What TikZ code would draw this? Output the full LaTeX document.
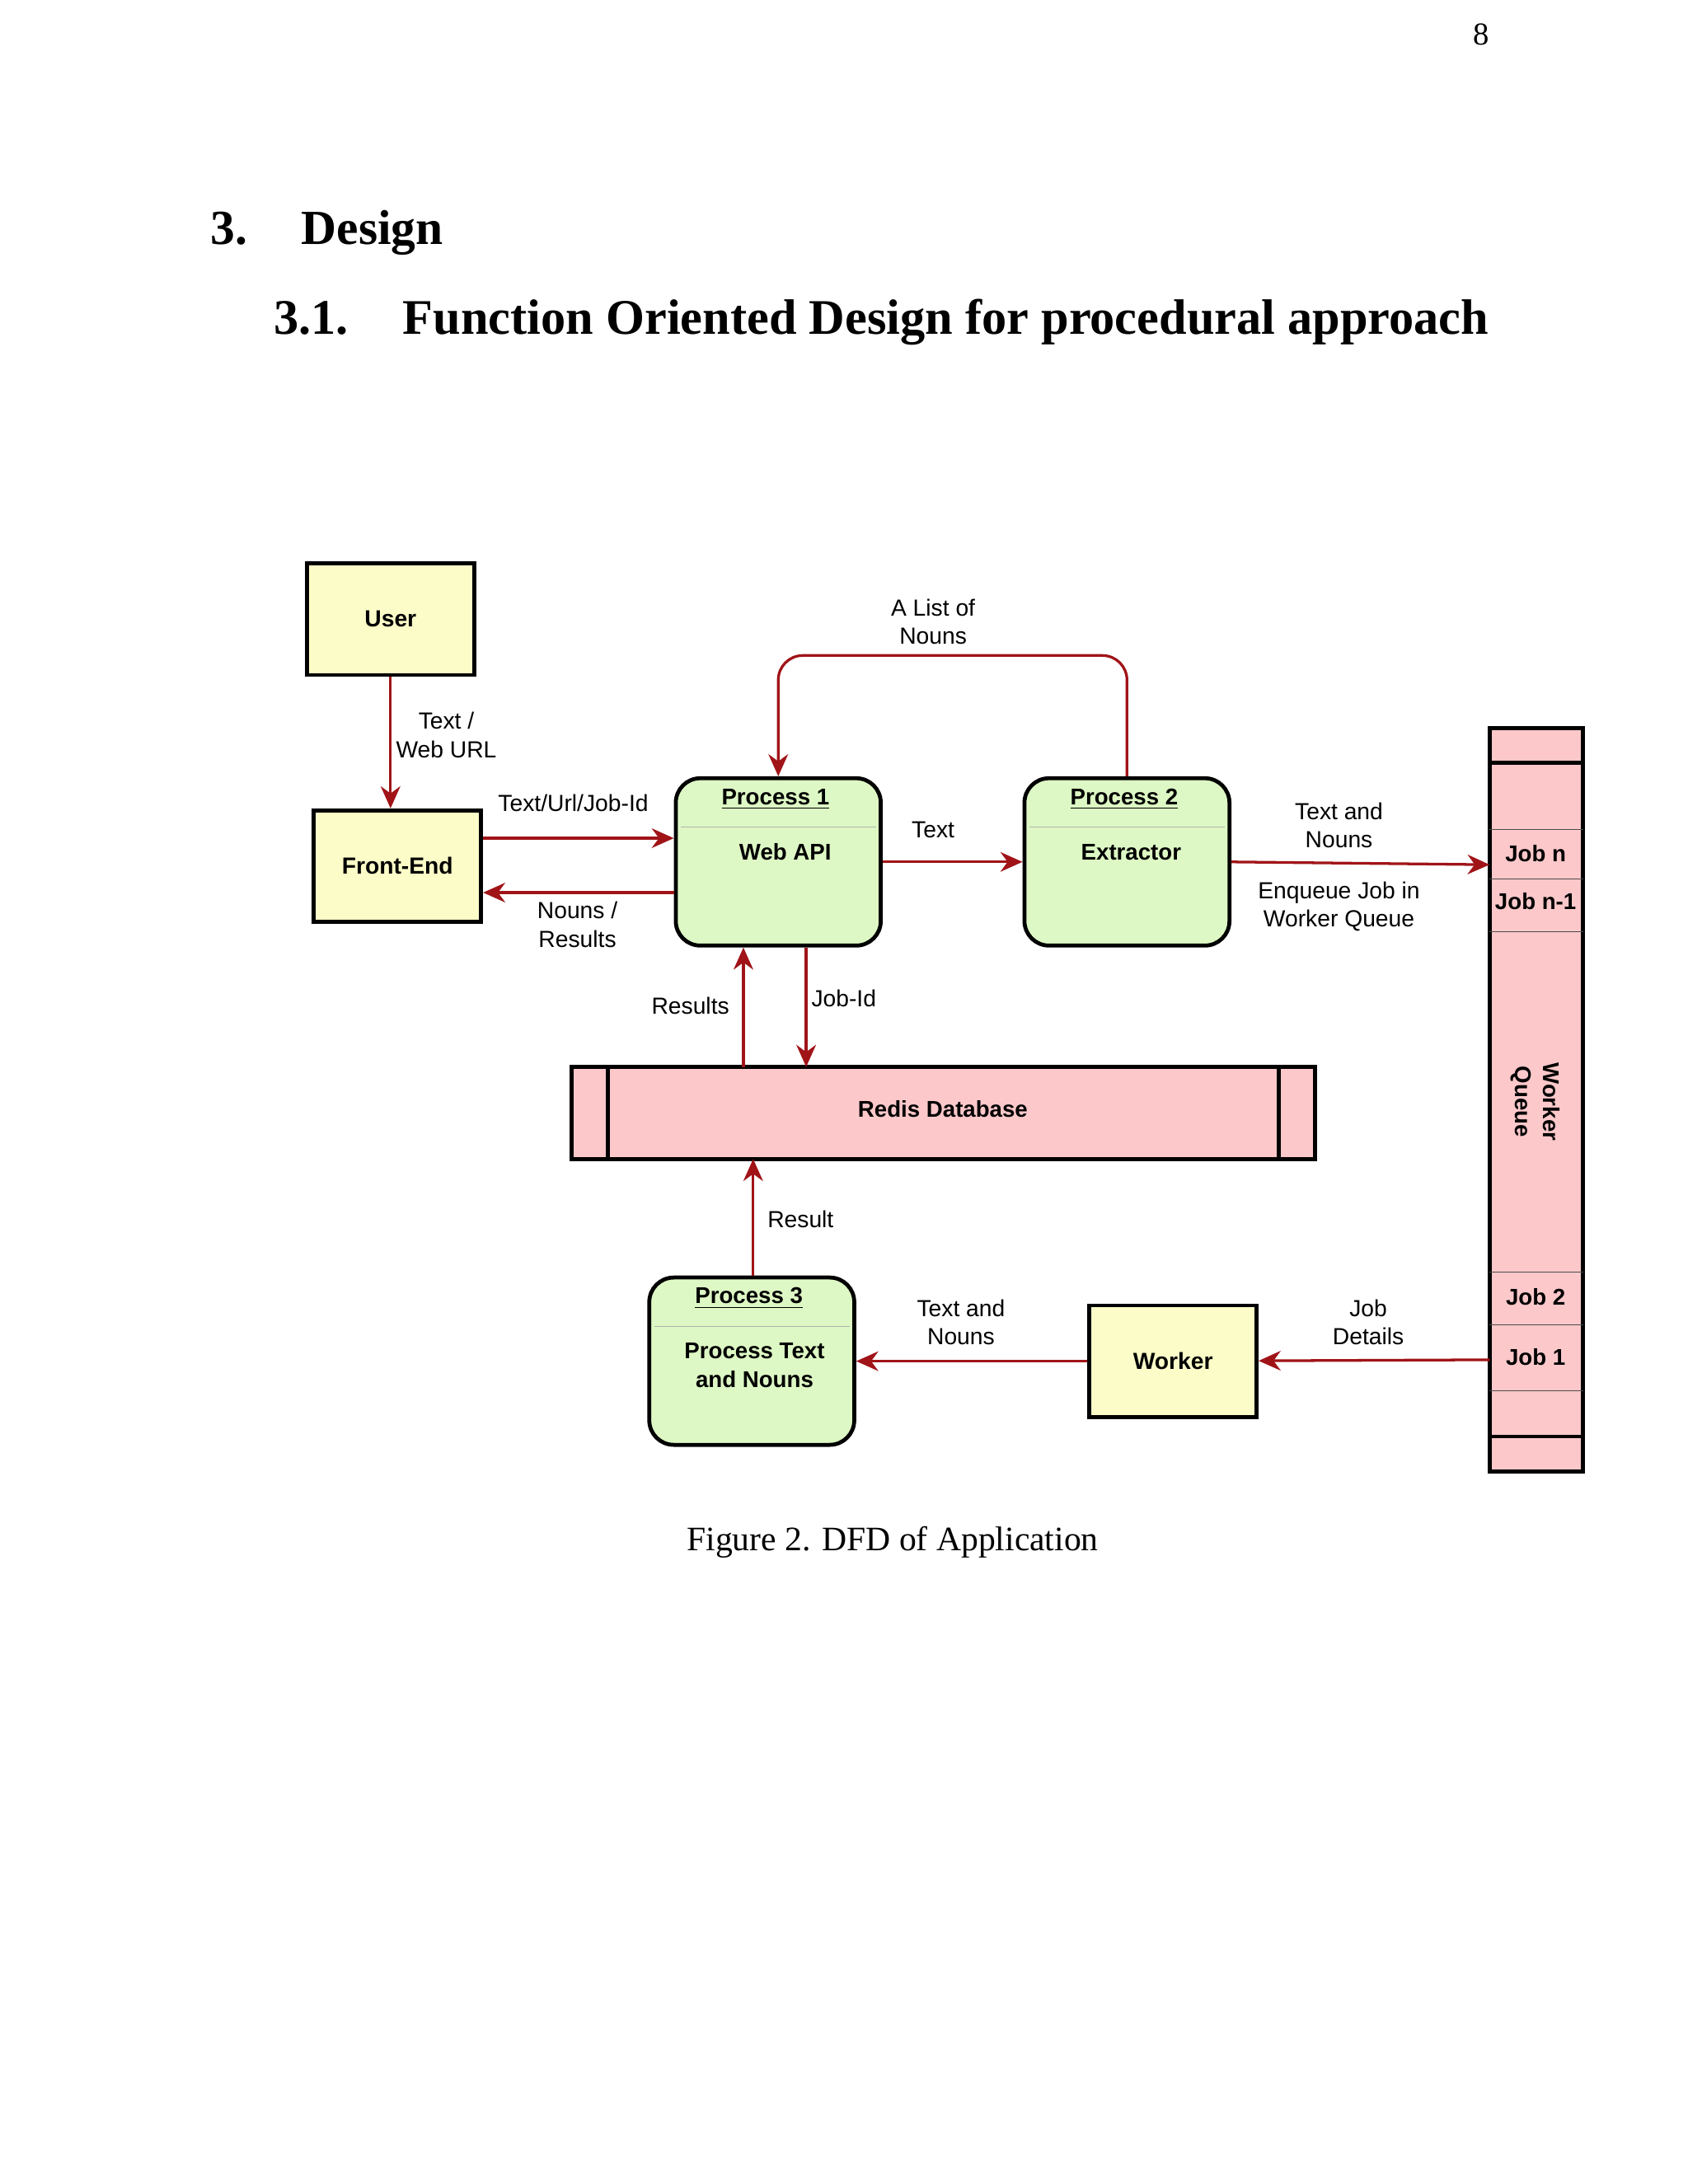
\documentclass[tikz,border=0pt]{standalone}
\usepackage{fontspec}
\setmainfont{Liberation Serif}
\newfontfamily\dfdfont{Liberation Sans}
\usetikzlibrary{arrows.meta}
\definecolor{flowred}{HTML}{A01418}
\definecolor{entityfill}{HTML}{FCFCC8}
\definecolor{procfill}{HTML}{DDF8C4}
\definecolor{storefill}{HTML}{FCC8CA}
\tikzset{
  entity/.style={draw, line width=1.6pt, fill=entityfill, minimum width=2.4cm, minimum height=1.6cm, font=\dfdfont\bfseries\fontsize{9.5}{11}\selectfont},
  process/.style={draw, line width=1.6pt, fill=procfill, rounded corners=10pt, minimum width=2.94cm, minimum height=2.4cm},
  store/.style={draw, line width=1.6pt, fill=storefill},
  flow/.style={draw=flowred, line width=1.1pt, -{Stealth[length=9pt,width=8pt]}},
  lbl/.style={font=\dfdfont\fontsize{9.5}{11.5}\selectfont, align=center},
  blbl/.style={font=\dfdfont\bfseries\fontsize{9.3}{11.5}\selectfont, align=center, inner sep=1pt}
}
\begin{document}
\begin{tikzpicture}[x=0.02cm, y=-0.02cm]
\useasboundingbox[fill=white] (0,0) rectangle (1210,1566);

% page heading
\node[font=\fontsize{13}{15}\selectfont] (pagenum) at (1062,25) {8};
\node[anchor=west, font=\bfseries\fontsize{20}{24}\selectfont] (sec) at (145,167) {3.\hspace{1.1em}Design};
\node[anchor=west, font=\bfseries\fontsize{20.3}{24}\selectfont] (subsec) at (190,231) {3.1.\hspace{1.1em}Function Oriented Design for procedural approach};

% external entities
\node[entity] (user) at (280,444) {User};
\node[entity] (frontend) at (285,621) {Front-End};
\node[entity] (worker) at (841,976) {Worker};

% processes
\node[process] (webapi) at (558,618) {};
\node[blbl] (webapititle) at (556,573) {\underline{Process 1}};
\draw[gray!60] (488,593) -- (628,593);
\node[blbl] (webapitext) at (563,611) {Web API};

\node[process] (extract) at (808,618) {};
\node[blbl] (extracttitle) at (806,573) {\underline{Process 2}};
\draw[gray!60] (738,593) -- (878,593);
\node[blbl] (extracttext) at (811,611) {Extractor};

\node[process] (procnouns) at (539,976) {};
\node[blbl] (procnounstitle) at (537,931) {\underline{Process 3}};
\draw[gray!60] (469,951) -- (609,951);
\node[blbl] (procnounstext) at (541,979) {Process Text\\and Nouns};

% data store
\draw[store] (410,765) rectangle (943,831);
\draw[line width=1.6pt] (436,765) -- (436,831) (917,765) -- (917,831);
\node[blbl] (redis) at (676,795) {Redis Database};
\coordinate (redisresults) at (533,765);
\coordinate (redisjobid) at (578,765);
\coordinate (redisresult) at (540,831);

% worker queue
\draw[store] (1068,522) rectangle (1135,1055);
\draw[line width=1.6pt] (1068,547) -- (1135,547) (1068,1030) -- (1135,1030);
\foreach \yy in {595,630,668,912,950,997}
  \draw[black!70] (1068,\yy) -- (1135,\yy);
\node[blbl] (jobn) at (1101,612) {Job n};
\node[blbl] (jobnm) at (1101,646) {Job n-1};
\node[blbl, rotate=-90] (queue) at (1101,790) {Worker\\Queue};
\node[blbl] (jobtwo) at (1101,930) {Job 2};
\node[blbl] (jobone) at (1101,973) {Job 1};
\coordinate (queuein) at (1068,620);
\coordinate (queueout) at (1068,975);

% data flows
\draw[flow] (user) -- (frontend.north -| user);
\node[lbl] (fl1) at (320,527) {Text /\\Web URL};
\draw[flow] (frontend.east |- 0,601) -- (webapi.west |- 0,601);
\node[lbl] (fl2) at (411,576) {Text/Url/Job-Id};
\draw[flow] (webapi.west |- 0,640) -- (frontend.east |- 0,640);
\node[lbl] (fl3) at (414,663) {Nouns /\\Results};
\draw[flow, rounded corners=10pt] (extract.north) -- (808,470) -- (558,470) -- (webapi.north);
\node[lbl] (fl4) at (669,446) {A List of\\Nouns};
\draw[flow] (webapi) -- (extract);
\node[lbl] (fl5) at (669,595) {Text};
\draw[flow] (extract.east) -- (queuein);
\node[lbl] (fl6) at (960,592) {Text and\\Nouns};
\node[lbl] (fl7) at (960,650) {Enqueue Job in\\Worker Queue};
\draw[flow] (redisresults) -- (redisresults |- webapi.south);
\node[lbl] (fl8) at (495,721) {Results};
\draw[flow] (redisjobid |- webapi.south) -- (redisjobid);
\node[lbl] (fl9) at (605,716) {Job-Id};
\draw[flow] (redisresult |- procnouns.north) -- (redisresult);
\node[lbl] (fl10) at (574,874) {Result};
\draw[flow] (worker) -- (procnouns);
\node[lbl] (fl11) at (689,948) {Text and\\Nouns};
\draw[flow] (queueout) -- (worker);
\node[lbl] (fl12) at (981,948) {Job\\Details};

% caption
\node[font=\fontsize{14}{16}\selectfont] (caption) at (640,1106) {Figure 2. DFD of Application};
\end{tikzpicture}
\end{document}
